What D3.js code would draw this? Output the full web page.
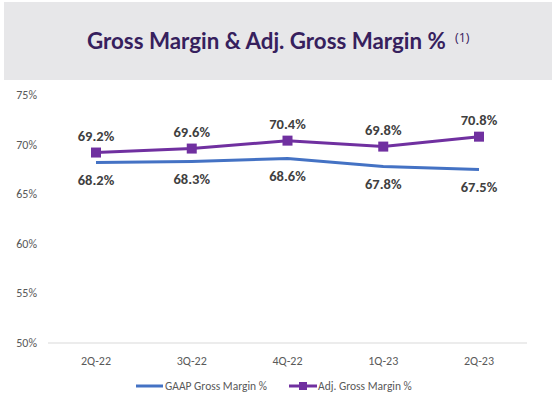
<!DOCTYPE html>
<html><head><meta charset="utf-8">
<script src="https://cdn.jsdelivr.net/npm/d3@7"></script>
<style>body{margin:0;background:#fff;}svg{display:block;}</style>
</head><body>
<svg id="c" width="556" height="403"></svg>
<script>
const categories = ["2Q-22","3Q-22","4Q-22","1Q-23","2Q-23"];
const gaap = [68.2, 68.3, 68.6, 67.8, 67.5];
const adj = [69.2, 69.6, 70.4, 69.8, 70.8];
const yTicks = [50,55,60,65,70,75];
const seriesNames = ["GAAP Gross Margin %","Adj. Gross Margin %"];

const svg = d3.select("#c");
svg.append("rect").attr("x",4).attr("y",2).attr("width",548).attr("height",78).attr("fill","#e7e7e9");
const title = svg.append("text").attr("x",87).attr("y",49).attr("fill","#36205d")
  .attr("font-family","Lato, 'DejaVu Sans', sans-serif").attr("font-weight","bold").attr("font-size",20)
  .text("Gross Margin & Adj. Gross Margin %");
const w = title.node().getComputedTextLength();
if (w > 0) title.attr("font-size", 20 * 359 / w);
svg.append("text").attr("x",455).attr("y",42).attr("fill","#36205d")
  .attr("font-family","'Open Sans', sans-serif").attr("font-size",12.5).text("(1)");

const x = d3.scalePoint().domain(categories).range([96,479]);
const y = d3.scaleLinear().domain([50,75]).range([343,95]);

svg.append("line").attr("x1",48).attr("x2",527).attr("y1",y(50)).attr("y2",y(50)).attr("stroke","#d9d9d9").attr("stroke-width",1);

const lf = "Carlito, 'Liberation Sans', sans-serif";
svg.selectAll(".yt").data(yTicks).join("text").attr("x",37).attr("y",d=>y(d)+4).attr("text-anchor","end")
  .attr("font-family",lf).attr("font-size",12).attr("fill","#595959").text(d=>d+"%");
svg.selectAll(".xt").data(categories).join("text").attr("x",d=>x(d)).attr("y",365).attr("text-anchor","middle")
  .attr("font-family",lf).attr("font-size",12).attr("fill","#595959").text(d=>d);

const line = d3.line().x((d,i)=>x(categories[i])).y(d=>y(d));
svg.append("path").attr("d",line(gaap)).attr("fill","none").attr("stroke","#4472c4").attr("stroke-width",3);
svg.append("path").attr("d",line(adj)).attr("fill","none").attr("stroke","#7030a0").attr("stroke-width",3);
svg.selectAll(".m").data(adj).join("rect").attr("x",(d,i)=>x(categories[i])-5).attr("y",d=>y(d)-5)
  .attr("width",10).attr("height",10).attr("fill","#7030a0");

svg.selectAll(".la").data(adj).join("text").attr("x",(d,i)=>x(categories[i])).attr("y",d=>y(d)-12)
  .attr("text-anchor","middle").attr("font-family",lf).attr("font-weight","bold").attr("font-size",14.5).attr("fill","#404040")
  .text(d=>d.toFixed(1)+"%");
svg.selectAll(".lg").data(gaap).join("text").attr("x",(d,i)=>x(categories[i])).attr("y",d=>y(d)+23)
  .attr("text-anchor","middle").attr("font-family",lf).attr("font-weight","bold").attr("font-size",14.5).attr("fill","#404040")
  .text(d=>d.toFixed(1)+"%");

// legend
svg.append("line").attr("x1",136).attr("x2",163).attr("y1",386).attr("y2",386).attr("stroke","#4472c4").attr("stroke-width",3);
svg.append("text").attr("x",165).attr("y",390).attr("font-family",lf).attr("font-size",11.5).attr("fill","#595959").text(seriesNames[0]);
svg.append("line").attr("x1",289).attr("x2",317).attr("y1",386).attr("y2",386).attr("stroke","#7030a0").attr("stroke-width",3);
svg.append("rect").attr("x",299).attr("y",382).attr("width",8).attr("height",8).attr("fill","#7030a0");
svg.append("text").attr("x",318).attr("y",390).attr("font-family",lf).attr("font-size",11.5).attr("fill","#595959").text(seriesNames[1]);
</script>
</body></html>
